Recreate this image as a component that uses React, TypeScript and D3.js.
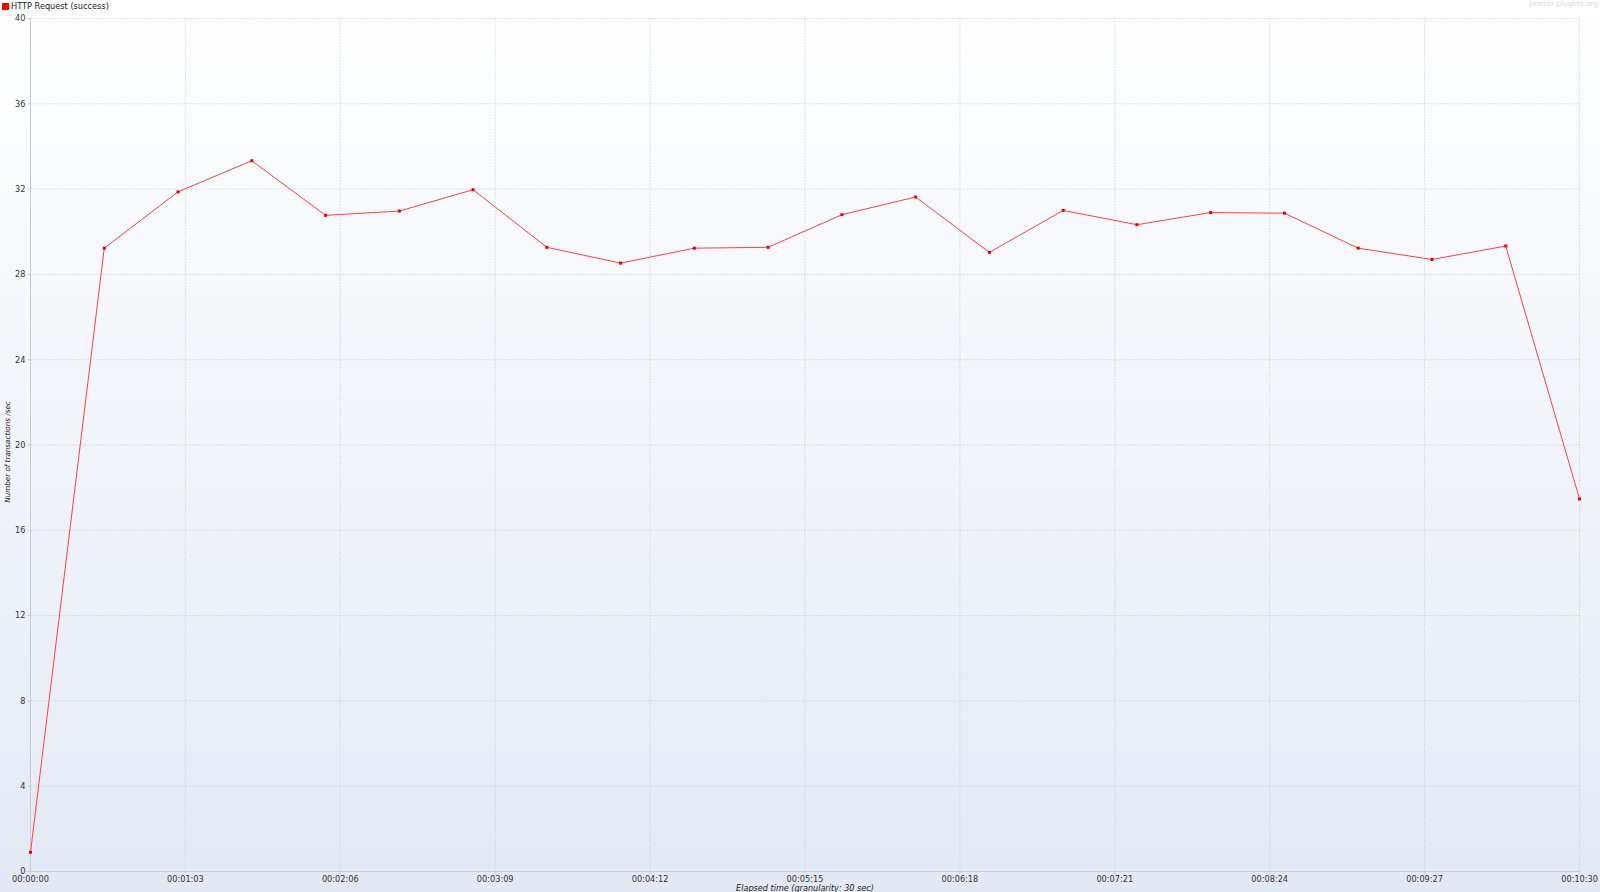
import React from "react";
import * as d3 from "d3";

const seconds = [0, 30, 60, 90, 120, 150, 180, 210, 240, 270, 300, 330, 360, 390, 420, 450, 480, 510, 540, 570, 600, 630];
const values = [0.9, 29.23, 31.87, 33.33, 30.77, 30.97, 31.97, 29.27, 28.53, 29.23, 29.27, 30.8, 31.63, 29.03, 31.0, 30.33, 30.9, 30.87, 29.23, 28.7, 29.33, 17.47];
const xTicks = [0, 63, 126, 189, 252, 315, 378, 441, 504, 567, 630];
const yTicks = [0, 4, 8, 12, 16, 20, 24, 28, 32, 36, 40];
const seriesName = "HTTP Request (success)";
const yLabel = "Number of transactions /sec";
const xLabel = "Elapsed time (granularity: 30 sec)";

const W = 1600;
const H = 892;
const left = 30.5;
const right = 1579.5;
const top = 18.5;
const bottom = 871.5;

function fmt(s: number) {
  const h = Math.floor(s / 3600);
  const m = Math.floor((s % 3600) / 60);
  const sec = s % 60;
  const p = (n: number) => String(n).padStart(2, "0");
  return `${p(h)}:${p(m)}:${p(sec)}`;
}

export default function App() {
  const x = d3.scaleLinear().domain([0, 630]).range([left, right]);
  const y = d3.scaleLinear().domain([0, 40]).range([bottom, top]);
  const line = d3
    .line<number>()
    .x((_, i) => x(seconds[i]))
    .y((d) => y(d));
  const font = "'DejaVu Sans', sans-serif";
  return (
    <svg
      width={W}
      height={H}
      style={{ position: "fixed", left: 0, top: 0, display: "block" }}
      fontFamily={font}
    >
      <defs>
        <linearGradient id="bg" x1="0" y1="0" x2="0" y2="1">
          <stop offset="0" stopColor="#ffffff" />
          <stop offset="1" stopColor="#e3e9f4" />
        </linearGradient>
      </defs>
      <rect x={0} y={0} width={W} height={H} fill="url(#bg)" />
      {/* grid */}
      {yTicks.map((t) => (
        <line
          key={"gy" + t}
          x1={left}
          x2={right}
          y1={y(t)}
          y2={y(t)}
          stroke="#c4c8d0"
          strokeWidth={1}
          strokeDasharray="1,2"
        />
      ))}
      {xTicks.map((t) => (
        <line
          key={"gx" + t}
          x1={x(t)}
          x2={x(t)}
          y1={top}
          y2={bottom}
          stroke="#c4c8d0"
          strokeWidth={1}
          strokeDasharray="1,2"
        />
      ))}
      {/* axes */}
      <line x1={left} x2={left} y1={top} y2={bottom} stroke="#c6cbd8" strokeWidth={1} />
      <line x1={left} x2={right} y1={bottom} y2={bottom} stroke="#c6cbd8" strokeWidth={1} />
      {yTicks.map((t) => (
        <g key={"ty" + t}>
          <line x1={left - 3} x2={left} y1={y(t)} y2={y(t)} stroke="#c6cbd8" />
          <text x={left - 5} y={y(t)} dy="0.35em" textAnchor="end" fontSize={8.2} fill="#333">
            {t}
          </text>
        </g>
      ))}
      {xTicks.map((t) => (
        <g key={"tx" + t}>
          <line x1={x(t)} x2={x(t)} y1={bottom} y2={bottom + 2} stroke="#c6cbd8" />
          <text
            x={t === 630 ? 1598 : x(t)}
            y={879}
            dy="0.35em"
            textAnchor={t === 630 ? "end" : "middle"}
            fontSize={8.2}
            fill="#333"
          >
            {fmt(t)}
          </text>
        </g>
      ))}
      {/* series */}
      <path d={line(values) || ""} fill="none" stroke="#ff4040" strokeWidth={1} />
      {values.map((v, i) => (
        <rect key={"p" + i} x={x(seconds[i]) - 1.5} y={y(v) - 1.5} width={3} height={3} fill="#ee0000" />
      ))}
      {/* legend */}
      <rect x={2} y={3} width={7} height={7} fill="#ff0000" />
      <text x={11} y={6.5} dy="0.35em" fontSize={8.2} fill="#222">
        {seriesName}
      </text>
      <text x={1598} y={3} dy="0.35em" textAnchor="end" fontSize={7.5} fill="#d8dce4">
        jmeter-plugins.org
      </text>
      {/* axis labels */}
      <text
        transform={`translate(7,452) rotate(-90)`}
        textAnchor="middle"
        dy="0.35em"
        fontSize={7.2}
        fontStyle="italic"
        fill="#222"
      >
        {yLabel}
      </text>
      <text
        x={(left + right) / 2}
        y={888.5}
        dy="0.35em"
        textAnchor="middle"
        fontSize={8.1}
        fontStyle="italic"
        fill="#222"
      >
        {xLabel}
      </text>
    </svg>
  );
}
